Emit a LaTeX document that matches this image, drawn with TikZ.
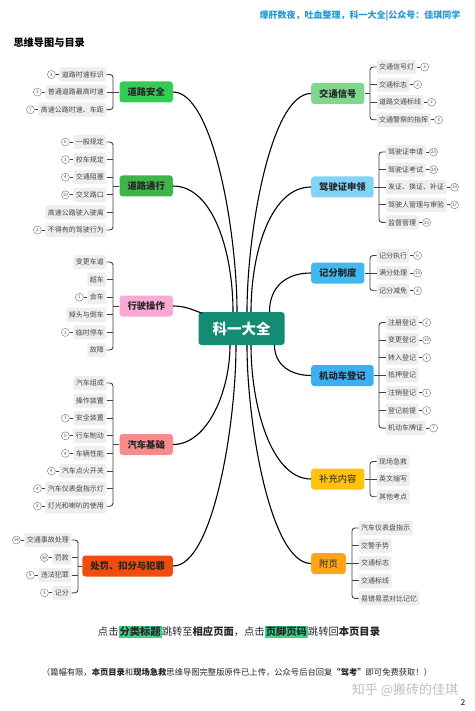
\documentclass[tikz,border=0pt]{standalone}
\usepackage{fontspec}
\setmainfont{Noto Sans CJK SC}
\usetikzlibrary{positioning,calc}

\definecolor{rootteal}{HTML}{148C74}
\definecolor{aqgreen}{HTML}{33CC55}
\definecolor{txgreen}{HTML}{3DB54A}
\definecolor{xspink}{HTML}{F8A9D4}
\definecolor{jcred}{HTML}{F78B8B}
\definecolor{cforange}{HTML}{F04C0E}
\definecolor{xhgreen}{HTML}{7ED98F}
\definecolor{jzblue}{HTML}{82D4F5}
\definecolor{jfblue}{HTML}{42B8F2}
\definecolor{djblue}{HTML}{3AB0F0}
\definecolor{bcyellow}{HTML}{FFC20E}
\definecolor{fyorange}{HTML}{FFA41B}
\definecolor{leafgray}{HTML}{EEEEEE}
\definecolor{headblue}{HTML}{1E9BD7}
\definecolor{hlgreen}{HTML}{3DD08A}

\tikzset{
  every picture/.style={x=1pt, y=1pt},
  root/.style={fill=rootteal, text=white, rounded corners=3pt, minimum height=33pt,
    inner xsep=14pt, font=\fontsize{14.5}{16}\selectfont\bfseries},
  topic/.style={rounded corners=3pt, minimum height=21pt, inner xsep=8pt, inner ysep=2pt,
    text=black!85, font=\fontsize{9.3}{11}\selectfont\bfseries},
  leaf/.style={fill=leafgray, rounded corners=2pt, minimum height=14pt, inner xsep=2.5pt,
    inner ysep=1pt, text=black!72, font=\fontsize{7}{8}\selectfont},
  badge/.style={circle, draw=black!55, fill=white, inner sep=0pt, minimum size=8pt,
    text=black!70, font=\fontsize{4.5}{5}\selectfont},
  branch/.style={draw=black!75, line width=0.9pt},
  link/.style={draw=black, line width=1.1pt}
}

% leaves to the left of a topic: name, bracket x, first y, list
\newcommand{\leftleaves}[4]{%
  \coordinate (#1br) at (#2,#3);
  \foreach \itm/\cnt [count=\i] in {#4}{%
    \node[leaf, anchor=east] (#1\i) at (#2-6.5, #3-17.6*\i+17.6) {\itm};
    \ifnum\cnt>0 \node[badge, left=3.5pt of #1\i] (#1n\i) {\cnt}; \draw[branch] (#1n\i) -- (#1\i); \fi
    \xdef\nkids{\i}}
  \pgfmathtruncatemacro\penult{\nkids-1}
  \foreach \i in {2,...,\penult}{\draw[branch] (#1\i.east) -- (#1\i.east -| #1br);}
  \draw[branch, rounded corners=3pt] (#11.east) -- (#11.east -| #1br) -- (#1\nkids.east -| #1br) -- (#1\nkids.east);
  \draw[branch] (#1.west) -- (#1.west -| #1br);
}
% leaves to the right of a topic
\newcommand{\rightleaves}[4]{%
  \coordinate (#1br) at (#2,#3);
  \foreach \itm/\cnt [count=\i] in {#4}{%
    \node[leaf, anchor=west] (#1\i) at (#2+6.5, #3-17.6*\i+17.6) {\itm};
    \ifnum\cnt>0 \node[badge, right=3.5pt of #1\i] (#1n\i) {\cnt}; \draw[branch] (#1n\i) -- (#1\i); \fi
    \xdef\nkids{\i}}
  \pgfmathtruncatemacro\penult{\nkids-1}
  \foreach \i in {2,...,\penult}{\draw[branch] (#1\i.west) -- (#1\i.west -| #1br);}
  \draw[branch, rounded corners=3pt] (#11.west) -- (#11.west -| #1br) -- (#1\nkids.west -| #1br) -- (#1\nkids.west);
  \draw[branch] (#1.east) -- (#1.east -| #1br);
}

\newcommand{\greenmark}[1]{{\setlength{\fboxsep}{1pt}\colorbox{hlgreen}{\textbf{#1}}}}

\begin{document}
\begin{tikzpicture}
  \useasboundingbox[fill=white] (0,0) rectangle (474,-711);

  % header
  \node[anchor=east, text=headblue, font=\fontsize{9}{10}\selectfont\bfseries] (head) at (464,-16)
    {爆肝数夜，吐血整理，科一大全|公众号：佳琪同学};
  \node[anchor=west, font=\fontsize{10.2}{12}\selectfont\bfseries] (title) at (10,-43) {思维导图与目录};

  % root
  \node[root] (ct) at (241.5,-328.5) {科一大全};

  % left topics
  \node[topic, fill=aqgreen, anchor=east] (aq) at (173,-92) {道路安全};
  \node[topic, fill=txgreen, anchor=east] (tx) at (173,-186) {道路通行};
  \node[topic, fill=xspink, anchor=east] (xs) at (173,-306) {行驶操作};
  \node[topic, fill=jcred, anchor=east] (jc) at (173,-444.5) {汽车基础};
  \node[topic, fill=cforange, anchor=east] (cf) at (173,-566) {处罚、扣分与犯罪};

  % right topics
  \node[topic, fill=xhgreen, anchor=west] (xh) at (311,-93.5) {交通信号};
  \node[topic, fill=jzblue, anchor=west] (jz) at (311,-187) {驾驶证申领};
  \node[topic, fill=jfblue, anchor=west] (jf) at (311,-273) {记分制度};
  \node[topic, fill=djblue, anchor=west] (dj) at (311,-375.5) {机动车登记};
  \node[topic, fill=bcyellow, anchor=west, font=\fontsize{9.3}{11}\selectfont] (bc) at (311,-479) {补充内容};
  \node[topic, fill=fyorange, anchor=west, font=\fontsize{9.3}{11}\selectfont] (fy) at (311,-563.5) {附页};

  % root to topics
  \draw[link] ($(ct.north)+(-4.5,0)$) to[out=90, in=0, out distance=80pt, in distance=40pt] (aq.east);
  \draw[link] ($(ct.north)+(-8.5,0)$) to[out=90, in=0, out distance=60pt, in distance=40pt] (tx.east);
  \draw[link] (xs.east) to[out=0, in=160] ($(ct.north west)+(4,-1.5)$);
  \draw[link] ($(ct.south)+(-11.5,0)$) to[out=-90, in=0, out distance=45pt, in distance=35pt] (jc.east);
  \draw[link] ($(ct.south)+(-5.5,0)$) to[out=-90, in=0, out distance=80pt, in distance=40pt] (cf.east);
  \draw[link] ($(ct.north)+(5.5,0)$) to[out=90, in=180, out distance=80pt, in distance=40pt] (xh.west);
  \draw[link] ($(ct.north)+(9.5,0)$) to[out=90, in=180, out distance=60pt, in distance=40pt] (jz.west);
  \draw[link] ($(ct.north)+(28,0)$) to[out=90, in=180, out distance=25pt, in distance=25pt] (jf.west);
  \draw[link] ($(ct.south)+(33,0)$) to[out=-90, in=180, out distance=20pt, in distance=20pt] (dj.west);
  \draw[link] ($(ct.south)+(9.5,0)$) to[out=-90, in=180, out distance=60pt, in distance=40pt] (bc.west);
  \draw[link] ($(ct.south)+(5.5,0)$) to[out=-90, in=180, out distance=80pt, in distance=40pt] (fy.west);

  % leaves
  \leftleaves{aq}{113}{-74.5}{道路时速标识/2, 普通道路最高时速/1, 高速公路时速、车距/7}
  \leftleaves{tx}{113}{-142}{一般规定/6, 校车规定/3, 交通阻塞/4, 交叉路口/10, 高速公路驶入驶离/0, 不得有的驾驶行为/2}
  \leftleaves{xs}{113}{-262}{变更车道/0, 超车/0, 会车/1, 掉头与倒车/0, 临时停车/1, 故障/0}
  \leftleaves{jc}{113}{-383}{汽车组成/0, 操作装置/0, 安全装置/7, 行车制动/5, 车辆性能/4, 汽车点火开关/4, 汽车仪表盘指示灯/4, 灯光和喇叭的使用/2}
  \leftleaves{cf}{78}{-540}{交通事故处理/14, 罚款/38, 违法犯罪/6, 记分/3}
  \rightleaves{xh}{370}{-67}{交通信号灯/3, 交通标志/2, 道路交通标线/2, 交通警察的指挥/3}
  \rightleaves{jz}{379}{-152}{驾驶证申请/23, 驾驶证考试/24, 发证、换证、补证/13, 驾驶人管理与审验/17, 监督管理/25}
  \rightleaves{jf}{370}{-255.5}{记分执行/6, 满分处理/15, 记分减免/8}
  \rightleaves{dj}{379}{-322.5}{注册登记/2, 变更登记/10, 转入登记/1, 抵押登记/0, 注销登记/1, 登记前提/1, 机动车牌证/7}
  \rightleaves{bc}{370}{-461.5}{现场急救/0, 英文缩写/0, 其他考点/0}
  \rightleaves{fy}{352}{-528}{汽车仪表盘指示/0, 交警手势/0, 交通标志/0, 交通标线/0, 易错易混对比记忆/0}

  % footer
  \node[font=\fontsize{10.3}{12}\selectfont, text=black!85] (nav) at (239,-632)
    {点击\greenmark{分类标题}跳转至\textbf{相应页面}，点击\greenmark{页脚页码}跳转回\textbf{本页目录}};
  \node[font=\fontsize{8.3}{9}\selectfont, text=black!85] (note) at (237,-672)
    {（篇幅有限，\textbf{本页目录}和\textbf{现场急救}思维导图完整版原件已上传，公众号后台回复\textbf{“驾考”}即可免费获取！）};
  \node[font=\fontsize{13}{14}\selectfont, text=black!25] (mark) at (405,-690) {知乎 @搬砖的佳琪};
  \node[font=\fontsize{8}{9}\selectfont] (page) at (463,-703) {2};
\end{tikzpicture}
\end{document}
